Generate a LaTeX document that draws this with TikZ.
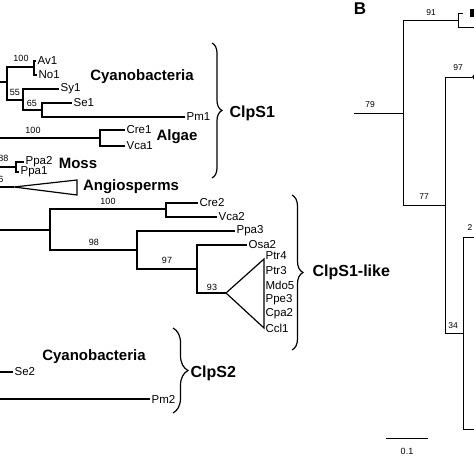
\documentclass[tikz,border=0pt]{standalone}
\usepackage{fontspec}
\setmainfont{Liberation Sans}
\usetikzlibrary{decorations.pathreplacing}
\begin{document}
\begin{tikzpicture}[x=1pt,y=-1pt,line width=1.2pt,
  leaf/.style={anchor=west,inner sep=1pt,font=\fontsize{11.5}{12}\selectfont},
  boot/.style={inner sep=0pt,font=\fontsize{9}{10}\selectfont},
  bootb/.style={inner sep=0pt,font=\fontsize{8.5}{9}\selectfont},
  grp/.style={inner sep=0pt,font=\fontsize{15}{16}\selectfont\bfseries},
  clp/.style={anchor=west,inner sep=0pt,font=\fontsize{16}{17}\selectfont\bfseries},
  bracestyle/.style={decorate,decoration={brace,amplitude=#1},line width=1.2pt},
  thinb/.style={line width=0.8pt}]
\useasboundingbox (0,0) rectangle (474,474);
% ---------- Panel A: ClpS1 cyanobacteria ----------
\coordinate (a0) at (0,82);
\coordinate (nC) at (7,82);
\coordinate (nAN) at (34,67);
\coordinate (n55) at (23,100);
\coordinate (n65) at (42,110);
\node[leaf] (av1) at (36,61) {Av1};
\node[leaf] (no1) at (37,75) {No1};
\node[leaf] (sy1) at (59,89) {Sy1};
\node[leaf] (se1) at (72,103) {Se1};
\node[leaf] (pm1) at (185,117) {Pm1};
\draw (a0) -- (nC);
\draw (nC) |- (nAN);
\draw (nC) |- (n55);
\draw (nAN) |- (av1.west);
\draw (nAN) |- (no1.west);
\draw (n55) |- (sy1.west);
\draw (n55) |- (n65);
\draw (n65) |- (se1.west);
\draw (n65) |- (pm1.west);
\node[boot] (b100a) at (21,58) {100};
\node[boot] (b55) at (15,92) {55};
\node[boot] (b65) at (32,103) {65};
\node[grp] (cyano1) at (142,77) {Cyanobacteria};
% algae
\coordinate (a1) at (0,138);
\coordinate (nAl) at (100,138);
\node[leaf] (cre1) at (125,130) {Cre1};
\node[leaf] (vca1) at (125,146) {Vca1};
\draw (a1) -- (nAl);
\draw (nAl) |- (cre1.west);
\draw (nAl) |- (vca1.west);
\node[boot] (b100b) at (33,130) {100};
\node[grp] (algae) at (177,137) {Algae};
% moss
\coordinate (a2) at (0,167);
\coordinate (nMo) at (16,167);
\node[leaf] (ppa2) at (24,162) {Ppa2};
\node[leaf] (ppa1) at (19,172) {Ppa1};
\draw (a2) -- (nMo);
\draw (nMo) |- (ppa2.west);
\draw (nMo) |- (ppa1.west);
\node[boot,anchor=east] (b88) at (9,158) {88};
\node[grp] (moss) at (78,163) {Moss};
% angiosperms
\coordinate (a3) at (0,187);
\coordinate (apA) at (14,187);
\coordinate (angT) at (77,180);
\coordinate (angB) at (77,195);
\draw (a3) -- (apA);
\draw (apA) -- (angT) -- (angB) -- cycle;
\node[boot,anchor=east] (b96) at (4,179) {96};
\node[grp] (angio) at (131,187) {Angiosperms};
% ClpS1 brace
\coordinate (br1t) at (212,43);
\coordinate (br1b) at (212,178);
\draw[bracestyle=10pt] (br1t) -- (br1b);
\node[clp] (clps1) at (229,113) {ClpS1};
% ---------- ClpS1-like ----------
\coordinate (l0) at (0,230);
\coordinate (nL) at (50,230);
\coordinate (n100) at (166,209);
\coordinate (n98) at (137,250);
\coordinate (n97) at (197,269);
\coordinate (n93) at (226,293);
\node[leaf] (cre2) at (198,203) {Cre2};
\node[leaf] (vca2) at (217,217) {Vca2};
\node[leaf] (ppa3) at (235,231) {Ppa3};
\node[leaf] (osa2) at (247,245) {Osa2};
\draw (l0) -- (nL);
\draw (nL) |- (n100);
\draw (nL) |- (n98);
\draw (n100) |- (cre2.west);
\draw (n100) |- (vca2.west);
\draw (n98) |- (ppa3.west);
\draw (n98) |- (n97);
\draw (n97) |- (osa2.west);
\draw (n97) |- (n93);
\coordinate (trT) at (264,259);
\coordinate (trB) at (264,328);
\draw (n93) -- (trT) -- (trB) -- cycle;
\node[leaf] (ptr4) at (264,256) {Ptr4};
\node[leaf] (ptr3) at (264,270.5) {Ptr3};
\node[leaf] (mdo5) at (264,285) {Mdo5};
\node[leaf] (ppe3) at (264,299.5) {Ppe3};
\node[leaf] (cpa2) at (264,314) {Cpa2};
\node[leaf] (ccl1) at (264,328.5) {Ccl1};
\node[boot] (b100c) at (108,201) {100};
\node[boot] (b98) at (94,242) {98};
\node[boot] (b97) at (167,260) {97};
\node[boot] (b93) at (212,287) {93};
\coordinate (br2t) at (292,195);
\coordinate (br2b) at (292,350);
\draw[bracestyle=11pt] (br2t) -- (br2b);
\node[clp] (clps1l) at (312,272) {ClpS1-like};
% ---------- ClpS2 ----------
\coordinate (s0) at (0,372);
\coordinate (s1) at (0,399);
\node[leaf] (se2) at (13,372) {Se2};
\node[leaf] (pm2) at (150,399) {Pm2};
\draw (s0) -- (se2.west);
\draw (s1) -- (pm2.west);
\node[grp] (cyano2) at (94,357) {Cyanobacteria};
\coordinate (br3t) at (173,328);
\coordinate (br3b) at (173,413);
\draw[bracestyle=15pt] (br3t) -- (br3b);
\node[clp] (clps2) at (190,373) {ClpS2};
% ---------- Panel B ----------
\node[inner sep=0pt,font=\fontsize{17}{18}\selectfont\bfseries] (B) at (360,9) {B};
\coordinate (r0) at (354,113);
\coordinate (rB) at (403,113);
\coordinate (n91) at (458,20);
\coordinate (n77) at (445,205);
\coordinate (n34) at (463,333);
\coordinate (t1) at (463,13);
\coordinate (t2) at (474,27);
\coordinate (t3) at (472,77);
\coordinate (t4) at (474,237);
\coordinate (t5) at (474,429);
\begin{scope}[thinb]
\draw (r0) -- (rB);
\draw (rB) |- (n91);
\draw (rB) |- (n77);
\draw (n91) |- (t1);
\draw (n91) |- (t2);
\draw (n77) |- (t3);
\draw (n77) |- (n34);
\draw (n34) |- (t4);
\draw (n34) |- (t5);
\end{scope}
\fill (470,9) rectangle (475,17);
\fill (t3) -- (478,69) -- (478,85) -- cycle;
\node[bootb] (b91) at (431,13) {91};
\node[bootb] (b79) at (370,105) {79};
\node[bootb] (b97b) at (458,68) {97};
\node[bootb] (b77) at (424,197) {77};
\node[bootb,anchor=west] (b2) at (467,228) {2};
\node[bootb] (b34) at (453,326) {34};
\coordinate (sc0) at (386,438);
\coordinate (sc1) at (428,438);
\draw[thinb] (sc0) -- (sc1);
\node[inner sep=0pt,font=\fontsize{9}{10}\selectfont] (sclab) at (407,451) {0.1};
\end{tikzpicture}
\end{document}
